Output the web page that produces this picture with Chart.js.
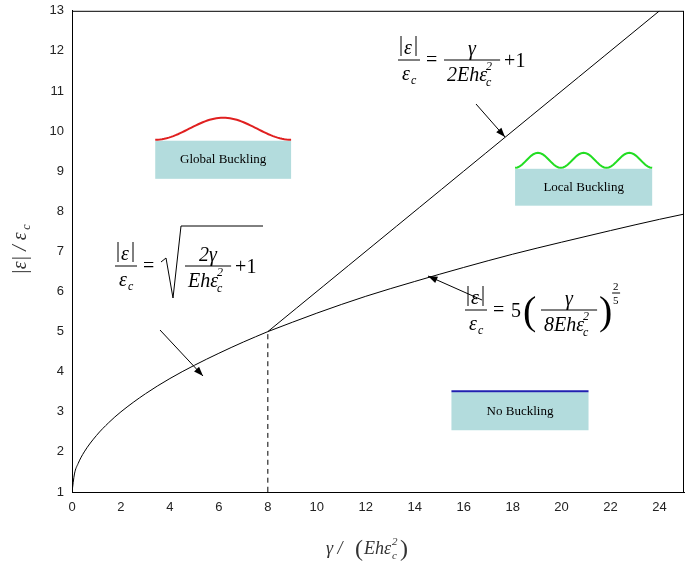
<!DOCTYPE html>
<html>
<head>
<meta charset="utf-8">
<script src="https://cdn.jsdelivr.net/npm/chart.js@4"></script>
<style>
  body { margin: 0; background: #fff; }
  #wrap { width: 685px; height: 574px; }
</style>
</head>
<body>
<div id="wrap"><canvas id="chart"></canvas></div>
<script>
// values
const globalX = [0, 0.1, 0.25, 0.5, 1, 1.5, 2, 3, 4, 5, 6, 7, 8];
const globalY = [1, 1.45, 1.71, 2.0, 2.41, 2.73, 3.0, 3.45, 3.83, 4.16, 4.46, 4.74, 5.0];
const lineX = [8, 24];
const lineY = [5, 13];
const localX = [8, 10, 12, 14, 16, 18, 20, 22, 24, 25];
const localY = [5.0, 5.46, 5.88, 6.25, 6.6, 6.93, 7.23, 7.52, 7.8, 7.93];
const dashX = [8, 8];
const dashY = [1, 5];

const xTicks = [0, 2, 4, 6, 8, 10, 12, 14, 16, 18, 20, 22, 24];
const yTicks = [1, 2, 3, 4, 5, 6, 7, 8, 9, 10, 11, 12, 13];

const pts = (xs, ys) => xs.map((x, i) => ({ x: x, y: ys[i] }));
const SERIF = "'Liberation Serif', 'DejaVu Serif', serif";

function frac(ctx, x, y, num, den, size) {
  ctx.font = "italic " + size + "px " + SERIF;
  const w = Math.max(ctx.measureText(num).width, ctx.measureText(den).width) + 6;
  ctx.textAlign = "center";
  ctx.textBaseline = "alphabetic";
  ctx.fillText(num, x + w / 2, y - 5);
  ctx.fillText(den, x + w / 2, y + size + 1);
  ctx.beginPath();
  ctx.moveTo(x, y); ctx.lineTo(x + w, y);
  ctx.lineWidth = 1; ctx.stroke();
  ctx.textAlign = "left";
  return x + w;
}

function lhs(ctx, x, y) {
  ctx.font = "italic 20px " + SERIF;
  ctx.textAlign = "left";
  ctx.fillText("ε", x + 6, y - 6);
  ctx.beginPath();
  ctx.moveTo(x + 3, y - 24); ctx.lineTo(x + 3, y - 4);
  ctx.moveTo(x + 18, y - 24); ctx.lineTo(x + 18, y - 4);
  ctx.moveTo(x, y); ctx.lineTo(x + 22, y);
  ctx.lineWidth = 1; ctx.stroke();
  ctx.fillText("ε", x + 4, y + 20);
  ctx.font = "italic 12px " + SERIF;
  ctx.fillText("c", x + 13, y + 24);
  ctx.font = "20px " + SERIF;
  ctx.fillText("=", x + 28, y + 6);
  return x + 46;
}

function arrow(ctx, x1, y1, x2, y2) {
  ctx.beginPath();
  ctx.moveTo(x1, y1); ctx.lineTo(x2, y2);
  ctx.lineWidth = 1; ctx.stroke();
  const a = Math.atan2(y2 - y1, x2 - x1);
  ctx.beginPath();
  ctx.moveTo(x2, y2);
  ctx.lineTo(x2 - 10 * Math.cos(a - 0.35), y2 - 10 * Math.sin(a - 0.35));
  ctx.lineTo(x2 - 10 * Math.cos(a + 0.35), y2 - 10 * Math.sin(a + 0.35));
  ctx.closePath(); ctx.fill();
}

function box(ctx, xs, ys, label) {
  const x0 = xs.getPixelForValue(label.x0), x1 = xs.getPixelForValue(label.x1);
  const y0 = ys.getPixelForValue(label.y0), y1 = ys.getPixelForValue(label.y1);
  ctx.fillStyle = "#b3dcdd";
  ctx.fillRect(x0, y0, x1 - x0, y1 - y0);
  ctx.fillStyle = "#000";
  ctx.font = "13px " + SERIF;
  ctx.textAlign = "center"; ctx.textBaseline = "middle";
  ctx.fillText(label.text, (x0 + x1) / 2, (y0 + y1) / 2);
  ctx.textAlign = "left"; ctx.textBaseline = "alphabetic";
  ctx.beginPath();
  ctx.strokeStyle = label.color; ctx.lineWidth = 2;
  const n = 60;
  for (let i = 0; i <= n; i++) {
    const t = i / n;
    const px = x0 + t * (x1 - x0);
    const py = y0 - 1 - label.amp * (0.5 - 0.5 * Math.cos(2 * Math.PI * label.waves * t));
    if (i === 0) ctx.moveTo(px, py); else ctx.lineTo(px, py);
  }
  ctx.stroke();
  ctx.strokeStyle = "#000";
}

const boxes = [
  { x0: 3.4, x1: 8.95, y0: 9.76, y1: 8.81, text: "Global Buckling", color: "#e02020", amp: 22, waves: 1 },
  { x0: 18.1, x1: 23.7, y0: 9.06, y1: 8.14, text: "Local Buckling", color: "#22dd22", amp: 15, waves: 3 },
  { x0: 15.5, x1: 21.1, y0: 3.49, y1: 2.54, text: "No Buckling", color: "#2020b0", amp: 0, waves: 1 }
];

const annotations = {
  id: "annotations",
  afterDatasetsDraw(chart) {
    const ctx = chart.ctx, xs = chart.scales.x, ys = chart.scales.y;
    ctx.save();
    ctx.fillStyle = "#000"; ctx.strokeStyle = "#000";
    boxes.forEach(b => box(ctx, xs, ys, b));

    // top formula
    let x = lhs(ctx, 398, 60);
    x = frac(ctx, x, 60, "γ", "2Ehε  ", 20);
    ctx.font = "italic 12px " + SERIF;
    ctx.fillText("c", x - 14, 86); ctx.fillText("2", x - 14, 70);
    ctx.font = "20px " + SERIF;
    ctx.fillText("+1", x + 4, 67);
    arrow(ctx, 476, 104, 505, 137);

    // left formula
    x = lhs(ctx, 115, 266);
    ctx.beginPath();
    ctx.moveTo(x, 262); ctx.lineTo(x + 5, 258); ctx.lineTo(x + 12, 298); ctx.lineTo(x + 20, 226); ctx.lineTo(x + 102, 226);
    ctx.lineWidth = 1; ctx.stroke();
    let x2 = frac(ctx, x + 24, 266, "2γ", "Ehε  ", 20);
    ctx.font = "italic 12px " + SERIF;
    ctx.fillText("c", x2 - 14, 292); ctx.fillText("2", x2 - 14, 276);
    ctx.font = "20px " + SERIF;
    ctx.fillText("+1", x2 + 4, 273);
    arrow(ctx, 160, 330, 203, 376);

    // right formula
    x = lhs(ctx, 465, 310);
    ctx.font = "20px " + SERIF;
    ctx.fillText("5", x, 317);
    ctx.font = "40px " + SERIF;
    ctx.fillText("(", x + 12, 324);
    x2 = frac(ctx, x + 30, 310, "γ", "8Ehε  ", 20);
    ctx.font = "italic 12px " + SERIF;
    ctx.fillText("c", x2 - 14, 336); ctx.fillText("2", x2 - 14, 320);
    ctx.font = "40px " + SERIF;
    ctx.fillText(")", x2 + 2, 324);
    ctx.font = "11px " + SERIF;
    ctx.fillText("2", x2 + 16, 290);
    ctx.beginPath(); ctx.moveTo(x2 + 15, 293); ctx.lineTo(x2 + 23, 293); ctx.stroke();
    ctx.fillText("5", x2 + 16, 304);
    arrow(ctx, 482, 300, 428, 276);

    // axis titles with subscripts
    ctx.fillStyle = "#333"; ctx.strokeStyle = "#333";
    ctx.font = "italic 18px " + SERIF;
    ctx.fillText("γ / ", 326, 554);
    ctx.font = "24px " + SERIF;
    ctx.fillText("(", 355, 556);
    ctx.font = "italic 18px " + SERIF;
    ctx.fillText("Ehε", 364, 554);
    ctx.font = "italic 11px " + SERIF;
    ctx.fillText("c", 392, 559); ctx.fillText("2", 392, 545);
    ctx.font = "24px " + SERIF;
    ctx.fillText(")", 400, 556);

    ctx.translate(26, 251);
    ctx.rotate(-Math.PI / 2);
    ctx.font = "italic 20px " + SERIF;
    ctx.textAlign = "center";
    ctx.fillText("|ε| / ε ", 0, 0);
    ctx.font = "italic 12px " + SERIF;
    ctx.fillText("c", 24, 4);
    ctx.restore();
  }
};

const lineStyle = { borderColor: "#000", borderWidth: 1, pointRadius: 0, fill: false, tension: 0.4 };

new Chart(document.getElementById("chart"), {
  type: "scatter",
  data: {
    datasets: [
      Object.assign({ data: pts(globalX, globalY), showLine: true }, lineStyle, { cubicInterpolationMode: "monotone" }),
      Object.assign({ data: pts(lineX, lineY), showLine: true }, lineStyle),
      Object.assign({ data: pts(localX, localY), showLine: true }, lineStyle, { cubicInterpolationMode: "monotone" }),
      Object.assign({ data: pts(dashX, dashY), showLine: true, borderDash: [5, 4] }, lineStyle)
    ]
  },
  options: {
    responsive: true,
    maintainAspectRatio: false,
    animation: false,
    layout: { padding: { top: 10, right: 1, left: 0, bottom: 0 } },
    plugins: { legend: { display: false }, tooltip: { enabled: false } },
    scales: {
      x: {
        type: "linear", min: 0, max: 25,
        afterBuildTicks: s => { s.ticks = xTicks.map(v => ({ value: v })); },
        afterFit: s => { s.height = 82; },
        grid: { display: false, drawTicks: true, tickLength: 5 },
        border: { color: "#000", width: 1 },
        ticks: { color: "#222", font: { family: "Liberation Sans, Arial", size: 13 } }
      },
      y: {
        type: "linear", min: 1, max: 13,
        afterBuildTicks: s => { s.ticks = yTicks.map(v => ({ value: v })); },
        afterFit: s => { s.width = 72; },
        grid: { display: false, tickLength: 5 },
        border: { color: "#000", width: 1 },
        ticks: { color: "#222", font: { family: "Liberation Sans, Arial", size: 13 } }
      }
    }
  },
  plugins: [annotations, {
    id: "frame",
    afterDraw(chart) {
      const a = chart.chartArea, ctx = chart.ctx;
      ctx.save(); ctx.strokeStyle = "#000"; ctx.lineWidth = 1;
      ctx.strokeRect(a.left + 0.5, a.top + 0.5, a.right - a.left - 1, a.bottom - a.top);
      ctx.restore();
    }
  }]
});
</script>
</body>
</html>
